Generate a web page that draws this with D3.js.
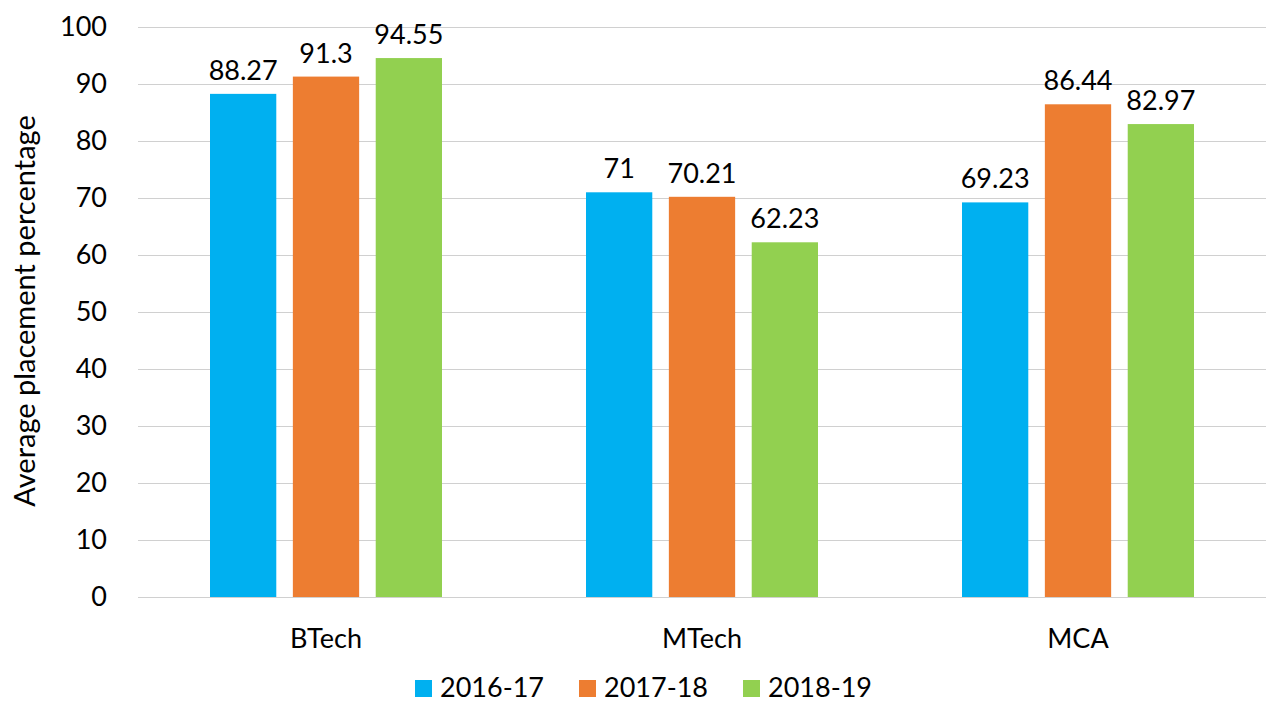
<!DOCTYPE html>
<html>
<head>
<meta charset="utf-8">
<script src="https://cdn.jsdelivr.net/npm/d3@7"></script>
<style>
  body { margin: 0; background: #fff; }
  svg { font-family: Lato, "Open Sans", sans-serif; }
</style>
</head>
<body>
<svg width="1280" height="720"></svg>
<script>
var programs = ["BTech", "MTech", "MCA"];
var years = ["2016-17", "2017-18", "2018-19"];
var v2016 = [88.27, 71, 69.23];
var v2017 = [91.3, 70.21, 86.44];
var v2018 = [94.55, 62.23, 82.97];
var yTicks = [0, 10, 20, 30, 40, 50, 60, 70, 80, 90, 100];
var colors = ["#00B0F0", "#ED7D31", "#92D050"];

var series = [v2016, v2017, v2018];

var svg = d3.select("svg"),
    margin = {top: 27, right: 14, bottom: 123, left: 138},
    width = +svg.attr("width") - margin.left - margin.right,
    height = +svg.attr("height") - margin.top - margin.bottom,
    g = svg.append("g").attr("transform", "translate(" + margin.left + "," + margin.top + ")");

var fs = "27px";

var x0 = d3.scaleBand()
    .domain(programs)
    .range([0, width])
    .paddingInner(0)
    .paddingOuter(0);

var x1 = d3.scaleBand()
    .domain(years)
    .range([72, x0.bandwidth() - 72])
    .paddingInner(0.2);

var y = d3.scaleLinear()
    .domain([0, 100])
    .range([height, 0]);

// gridlines
g.append("g")
    .selectAll("line")
    .data(yTicks)
    .enter().append("line")
      .attr("x1", 0)
      .attr("x2", width)
      .attr("y1", function(d) { return y(d) + 0.5; })
      .attr("y2", function(d) { return y(d) + 0.5; })
      .attr("stroke", "#d0d0d0")
      .attr("stroke-width", 1);

// y axis labels
g.append("g")
    .selectAll("text")
    .data(yTicks)
    .enter().append("text")
      .attr("x", -31)
      .attr("y", function(d) { return y(d); })
      .attr("dy", "0.35em")
      .attr("text-anchor", "end")
      .attr("font-size", fs)
      .attr("fill", "#000")
      .text(function(d) { return d; });

// bars
var groups = g.selectAll(".grp")
    .data(programs)
    .enter().append("g")
      .attr("class", "grp")
      .attr("transform", function(d) { return "translate(" + x0(d) + ",0)"; });

groups.selectAll("rect")
    .data(function(d, i) { return years.map(function(yr, j) { return {year: yr, value: series[j][i], j: j}; }); })
    .enter().append("rect")
      .attr("x", function(d) { return x1(d.year); })
      .attr("y", function(d) { return y(d.value); })
      .attr("width", x1.bandwidth())
      .attr("height", function(d) { return height - y(d.value); })
      .attr("fill", function(d) { return colors[d.j]; });

groups.selectAll(".val")
    .data(function(d, i) { return years.map(function(yr, j) { return {year: yr, value: series[j][i]}; }); })
    .enter().append("text")
      .attr("class", "val")
      .attr("x", function(d) { return x1(d.year) + x1.bandwidth() / 2; })
      .attr("y", function(d) { return y(d.value) - 14; })
      .attr("text-anchor", "middle")
      .attr("font-size", fs)
      .attr("fill", "#000")
      .text(function(d) { return d.value; });

// category labels
g.append("g")
    .selectAll("text")
    .data(programs)
    .enter().append("text")
      .attr("x", function(d) { return x0(d) + x0.bandwidth() / 2; })
      .attr("y", height + 51)
      .attr("text-anchor", "middle")
      .attr("font-size", fs)
      .attr("fill", "#000")
      .text(function(d) { return d; });

// y title
svg.append("text")
    .attr("transform", "translate(35," + (margin.top + height / 2 - 1) + ") rotate(-90)")
    .attr("text-anchor", "middle")
    .attr("font-size", "29px")
    .attr("fill", "#000")
    .text("Average placement percentage");

// legend
var legendX = [415, 579, 743];
var legend = svg.append("g")
    .selectAll("g")
    .data(years)
    .enter().append("g")
      .attr("transform", function(d, i) { return "translate(" + legendX[i] + ",680)"; });

legend.append("rect")
    .attr("width", 17)
    .attr("height", 17)
    .attr("fill", function(d, i) { return colors[i]; });

legend.append("text")
    .attr("x", 25)
    .attr("y", 17)
    .attr("font-size", fs)
    .attr("fill", "#000")
    .text(function(d) { return d; });
</script>
</body>
</html>
